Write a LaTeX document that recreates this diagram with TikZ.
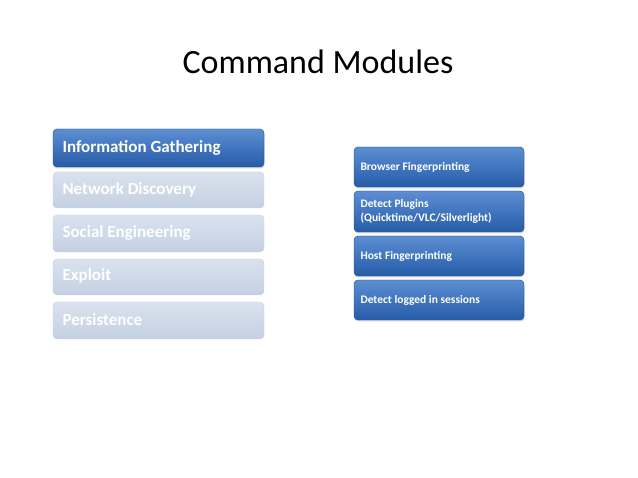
\documentclass[tikz,border=0pt]{standalone}
\usepackage{fontspec}
\setmainfont{Carlito}
\usetikzlibrary{shadows}
\definecolor{bluetop}{RGB}{92,142,210}
\definecolor{bluebot}{RGB}{38,92,168}
\definecolor{greytop}{RGB}{218,226,238}
\definecolor{greybot}{RGB}{196,208,226}
\tikzset{x=1pt,y=-1pt,
  active/.style={draw=bluebot!80!black,line width=0.4pt,rounded corners=4pt,top color=bluetop,bottom color=bluebot,drop shadow={opacity=0.35,shadow xshift=0.5pt,shadow yshift=-1.5pt}},
  inactive/.style={draw=greybot,rounded corners=4pt,top color=greytop,bottom color=greybot},
  ltxt/.style={anchor=west,text=white,font=\bfseries\fontsize{17}{19}\selectfont},
  rtxt/.style={anchor=west,text=white,font=\bfseries\fontsize{11.5}{14}\selectfont,align=left}}
\begin{document}
\begin{tikzpicture}
\useasboundingbox (0,0) rectangle (638,478);
\node (title) at (318,62) {\fontsize{34}{40}\selectfont Command Modules};
\path[active] (53,129) rectangle (264,167);
\node[ltxt] (l1) at (59,148) {Information Gathering};
\path[inactive] (53,172) rectangle (264,208);
\node[ltxt] (l2) at (59,190) {Network Discovery};
\path[inactive] (53,215) rectangle (264,252);
\node[ltxt] (l3) at (59,233) {Social Engineering};
\path[inactive] (53,259) rectangle (264,295);
\node[ltxt] (l4) at (59,276) {Exploit};
\path[inactive] (53,302) rectangle (264,339);
\node[ltxt] (l5) at (59,320) {Persistence};
\path[active] (354,147) rectangle (524,187);
\node[rtxt] (r1) at (357,167) {Browser Fingerprinting};
\path[active] (354,191) rectangle (524,232);
\node[rtxt] (r2) at (357,211) {Detect Plugins\\(Quicktime/VLC/Silverlight)};
\path[active] (354,236) rectangle (524,276);
\node[rtxt] (r3) at (357,256) {Host Fingerprinting};
\path[active] (354,280) rectangle (524,320);
\node[rtxt] (r4) at (357,300) {Detect logged in sessions};
\end{tikzpicture}
\end{document}
